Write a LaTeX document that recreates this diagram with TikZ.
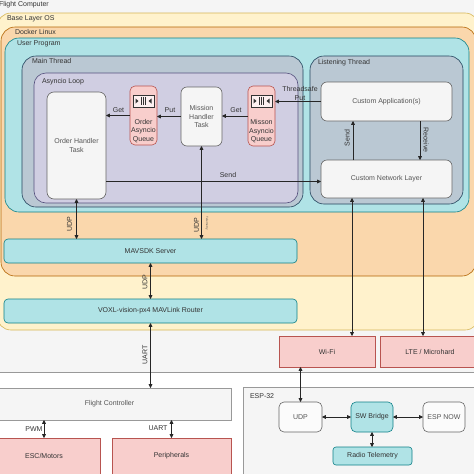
\documentclass[tikz,border=0pt]{standalone}
\usepackage{fontspec}
\setmainfont{Liberation Sans}
\usetikzlibrary{arrows.meta,calc}
\definecolor{grayF}{HTML}{F5F5F5}
\definecolor{grayS}{HTML}{666666}
\definecolor{yelF}{HTML}{FFF2CC}
\definecolor{yelS}{HTML}{D6B656}
\definecolor{oraF}{HTML}{FAD7AC}
\definecolor{oraS}{HTML}{B46504}
\definecolor{tealF}{HTML}{B0E3E6}
\definecolor{tealS}{HTML}{0E8088}
\definecolor{bluF}{HTML}{BAC8D3}
\definecolor{bluS}{HTML}{23445D}
\definecolor{purF}{HTML}{D0CEE2}
\definecolor{purS}{HTML}{56517E}
\definecolor{pinkF}{HTML}{F8CECC}
\definecolor{pinkS}{HTML}{B85450}
\definecolor{txt}{HTML}{333333}
\definecolor{txtg}{HTML}{555555}
\newcommand{\qicon}[1]{%
  \draw[line width=0.5pt, draw=txt, fill=white!70!pinkF] ($(#1.north)+(-10.5,9)$) rectangle ($(#1.north)+(10.5,21)$);
  \fill[txt] ($(#1.north)+(-8,12.5)$) -- ($(#1.north)+(-8,17.5)$) -- ($(#1.north)+(-5,15)$) -- cycle;
  \fill[txt] ($(#1.north)+(8,12.5)$) -- ($(#1.north)+(8,17.5)$) -- ($(#1.north)+(5,15)$) -- cycle;
  \foreach \d in {-2,0,2} \draw[line width=0.4pt, txt] ($(#1.north)+(\d,11)$) -- ($(#1.north)+(\d,19)$);
}
\begin{document}
\begin{tikzpicture}[x=1pt,y=-1pt,
  font=\fontsize{7}{8.5}\selectfont,
  every node/.style={inner sep=0pt, outer sep=0pt, text=txt},
  area/.style={draw, line width=0.6pt, anchor=north west},
  graybox/.style={area, fill=grayF, draw=grayS, text=txtg, align=center},
  pinkbox/.style={area, fill=pinkF, draw=pinkS, align=center},
  tealbox/.style={area, fill=tealF, draw=tealS, align=center},
  whitebox/.style={area, fill=white!60!grayF, draw=grayS, text=txtg, align=center},
  lbl/.style={text=txt},
  arr/.style={draw=black!85, line width=0.6pt, -{Triangle[length=3.8pt,width=3.8pt]}},
  dbl/.style={draw=black!85, line width=0.6pt, {Triangle[length=3.8pt,width=3.8pt]}-{Triangle[length=3.8pt,width=3.8pt]}}
]
\useasboundingbox (0,0) rectangle (474,474);
\clip (0,0) rectangle (474,474);
\fill[white] (0,0) rectangle (474,474);

% containers
\node[area, fill=grayF, draw=black!40, minimum width=490pt, minimum height=380pt] (fc) at (-8,-8) {};
\node[lbl, anchor=west] (fcl) at (-1,5) {Flight Computer};
\node[area, fill=yelF, draw=yelS, rounded corners=14pt, minimum width=482pt, minimum height=317pt] (base) at (-3,13) {};
\node[lbl, anchor=west] (basel) at (7,19) {Base Layer OS};
\node[area, fill=oraF, draw=oraS, rounded corners=14pt, minimum width=475pt, minimum height=249pt] (dock) at (1,27) {};
\node[lbl, anchor=west] (dockl) at (15,32) {Docker Linux};
\node[area, fill=tealF, draw=tealS, rounded corners=14pt, minimum width=464pt, minimum height=174pt] (user) at (5,38) {};
\node[lbl, anchor=west] (userl) at (17,44) {User Program};
\node[area, fill=bluF, draw=bluS, rounded corners=14pt, minimum width=281pt, minimum height=151pt] (main) at (22,56) {};
\node[lbl, anchor=west] (mainl) at (32,61) {Main Thread};
\node[area, fill=purF, draw=purS, rounded corners=12pt, minimum width=264pt, minimum height=130pt] (async) at (34,73) {};
\node[lbl, anchor=west] (asyncl) at (42,82) {Asyncio Loop};
\node[area, fill=bluF, draw=bluS, rounded corners=14pt, minimum width=153pt, minimum height=148pt] (listen) at (310,56) {};
\node[lbl, anchor=west] (listenl) at (318,63) {Listening Thread};

% inner boxes
\node[graybox, rounded corners=7pt, minimum width=59pt, minimum height=107pt] (oht) at (47,92) {Order Handler\\Task};
\node[pinkbox, rounded corners=5pt, minimum width=27pt, minimum height=59pt] (oq) at (130,86) {};
\node[graybox, rounded corners=6pt, minimum width=41pt, minimum height=59pt] (mht) at (181,87) {Mission\\Handler\\Task};
\node[pinkbox, rounded corners=5pt, minimum width=27pt, minimum height=60pt] (mq) at (248,86) {};
\node[graybox, rounded corners=6pt, minimum width=131pt, minimum height=39pt] (ca) at (321,82) {Custom Application(s)};
\node[graybox, rounded corners=6pt, minimum width=131pt, minimum height=38pt] (cnl) at (321,160) {Custom Network Layer};
\qicon{oq}
\qicon{mq}
\node[align=center] (oqt) at (143.5,131) {Order\\Asyncio\\Queue};
\node[align=center] (mqt) at (261.5,131.5) {Misson\\Asyncio\\Queue};

\node[tealbox, rounded corners=4pt, minimum width=293pt, minimum height=24pt] (mav) at (4,239) {MAVSDK Server};
\node[tealbox, rounded corners=4pt, minimum width=293pt, minimum height=24pt] (voxl) at (4,299) {VOXL-vision-px4 MAVLink Router};

\node[pinkbox, minimum width=96pt, minimum height=31pt] (wifi) at (279,336) {Wi-Fi};
\node[pinkbox, minimum width=100pt, minimum height=31pt] (lte) at (380,336) {LTE / Microhard};

\node[graybox, draw=black!40, minimum width=243pt, minimum height=32pt] (flc) at (-12,388) {Flight Controller};
\node[pinkbox, minimum width=112pt, minimum height=50pt] (esc) at (-12,438) {};
\node[lbl] (escl) at (44,456) {ESC/Motors};
\node[pinkbox, minimum width=119pt, minimum height=50pt] (per) at (112,438) {};
\node[lbl] (perl) at (171.5,456) {Peripherals};

\node[graybox, draw=black!40, minimum width=240pt, minimum height=100pt] (esp) at (243,387) {};
\node[lbl, anchor=west] (espl) at (250,396) {ESP-32};
\node[whitebox, rounded corners=5pt, minimum width=43pt, minimum height=30pt] (udp) at (279,402) {UDP};
\node[tealbox, rounded corners=5pt, minimum width=42pt, minimum height=30pt] (swb) at (351,402) {SW Bridge};
\node[whitebox, rounded corners=5pt, minimum width=42pt, minimum height=30pt] (espnow) at (423,402) {ESP NOW};
\node[tealbox, rounded corners=3pt, minimum width=79pt, minimum height=18pt] (radio) at (333,447) {Radio Telemetry};

% connectors
\draw[arr] (mq.west) -- (mq.west -| mht.east);
\draw[arr] (mht.west) -- (mht.west -| oq.east);
\draw[arr] (oq.west) -- (oq.west -| oht.east);
\draw[arr] (ca.west) -- (ca.west -| mq.east);
\coordinate (sendA) at ($(oht.east)+(0,36)$);
\draw[arr] (sendA) -- (sendA -| cnl.west);
\coordinate (cS) at ($(cnl.north)+(-33.5,0)$);
\draw[arr] (cS) -- (cS |- ca.south);
\coordinate (cR) at ($(ca.south)+(33.5,0)$);
\draw[arr] (cR) -- (cR |- cnl.north);
\coordinate (wA) at ($(cnl.south)+(-34.5,0)$);
\draw[dbl] (wA) -- (wA |- wifi.north);
\coordinate (lA) at ($(cnl.south)+(36.5,0)$);
\draw[dbl] (lA) -- (lA |- lte.north);
\draw[dbl] (oht.south) -- (oht.south |- mav.north);
\draw[dbl] (mht.south) -- (mht.south |- mav.north);
\draw[dbl] (mav.south) -- (mav.south |- voxl.north);
\draw[dbl] (voxl.south) -- (voxl.south |- flc.north);
\draw[dbl] (esc.north) -- (esc.north |- flc.south);
\draw[dbl] (per.north) -- (per.north |- flc.south);
\draw[dbl] (udp.north) -- (udp.north |- wifi.south);
\draw[dbl] (udp.east) -- (swb.west);
\draw[dbl] (swb.east) -- (espnow.west);
\draw[dbl] (swb.south) -- (swb.south |- radio.north);

% connector labels
\node[lbl] (g1) at (236,110) {Get};
\node[lbl] (p1) at (170,110) {Put};
\node[lbl] (g2) at (118.5,110) {Get};
\node[lbl] (s1) at (228,175) {Send};
\node[lbl, align=center] (tp) at (300,93.5) {Threadsafe\\Put};
\node[lbl, rotate=90] (s2) at (347,138) {Send};
\node[lbl, rotate=-90] (r1) at (426,140) {Receive};
\node[lbl, rotate=90] (u1) at (69.5,224) {UDP};
\node[lbl, rotate=90] (u2) at (196.5,225) {UDP};
\node[lbl, rotate=-90, font=\fontsize{3}{3.5}\selectfont, text=txtg] (tel) at (207,223) {Telemetry};
\node[lbl, rotate=90] (u3) at (145,282) {UDP};
\node[lbl, rotate=90] (ua1) at (145,355) {UART};
\node[lbl] (pwm) at (34,429) {PWM};
\node[lbl] (ua2) at (158,428) {UART};
\end{tikzpicture}
\end{document}
